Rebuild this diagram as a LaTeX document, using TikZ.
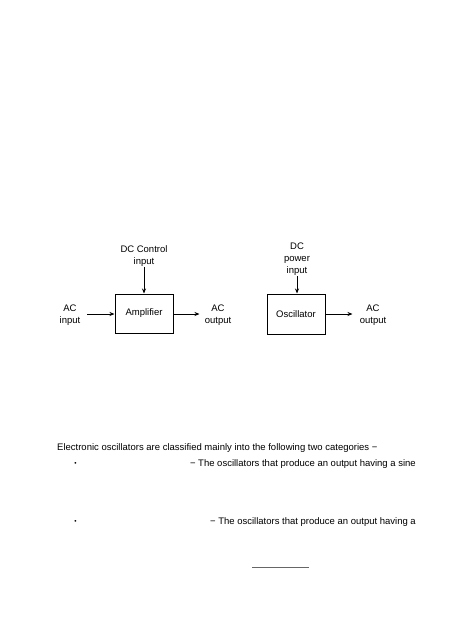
\documentclass[tikz,border=0pt]{standalone}
\usepackage{fontspec}
\setmainfont{Liberation Sans}
\usetikzlibrary{arrows.meta}
\begin{document}
\begin{tikzpicture}[x=1pt,y=-1pt,
    font=\fontsize{9.5}{12}\selectfont,
    block/.style={draw,line width=1pt,inner sep=0pt},
    lbl/.style={align=center,inner sep=0pt},
    sig/.style={-{Stealth[length=5pt,width=4pt]},line width=0.9pt}]
    \useasboundingbox[fill=white] (0,0) rectangle (474,632);

    % amplifier
    \node[block,minimum width=58pt,minimum height=39pt] (Amp) at (144,313.5) {Amplifier};
    \node[lbl] (DCctl) at (144,256.5) {DC Control\\input};
    \node[lbl] (ACin) at (70,315) {AC\\input};
    \node[lbl] (ACout1) at (218,315) {AC\\output};
    \coordinate (Ain) at (87,314);
    \coordinate (Aout) at (199.5,314);
    \draw[sig] (DCctl.south) -- (Amp.north);
    \draw[sig] (Ain) -- (Amp.west |- Ain);
    \draw[sig] (Amp.east |- Aout) -- (Aout);

    % oscillator
    \node[block,minimum width=58pt,minimum height=40pt] (Osc) at (296,314) {Oscillator};
    \node[lbl] (DCpow) at (297,259.5) {DC\\power\\input};
    \node[lbl] (ACout2) at (373,315.5) {AC\\output};
    \coordinate (Oout) at (352.5,314);
    \draw[sig] (DCpow.south) -- (DCpow.south |- Osc.north);
    \draw[sig] (Osc.east |- Oout) -- (Oout);

    % text below
    \node[anchor=base west,inner sep=0pt] (intro) at (57,450.5)
        {Electronic oscillators are classified mainly into the following two categories −};
    \node[inner sep=0pt,font=\fontsize{6.5}{6.5}\selectfont] (B1) at (75.5,464) {•};
    \node[inner sep=0pt,font=\fontsize{6.5}{6.5}\selectfont] (B2) at (75.5,522) {•};
    \node[anchor=base east,inner sep=0pt] (T1) at (416,466.5)
        {− The oscillators that produce an output having a sine};
    \node[anchor=base east,inner sep=0pt] (T2) at (416,524.5)
        {− The oscillators that produce an output having a};
    \coordinate (R1) at (252,567);
    \coordinate (R2) at (309,567);
    \draw[line width=0.7pt,gray!80!black] (R1) -- (R2);
\end{tikzpicture}
\end{document}
